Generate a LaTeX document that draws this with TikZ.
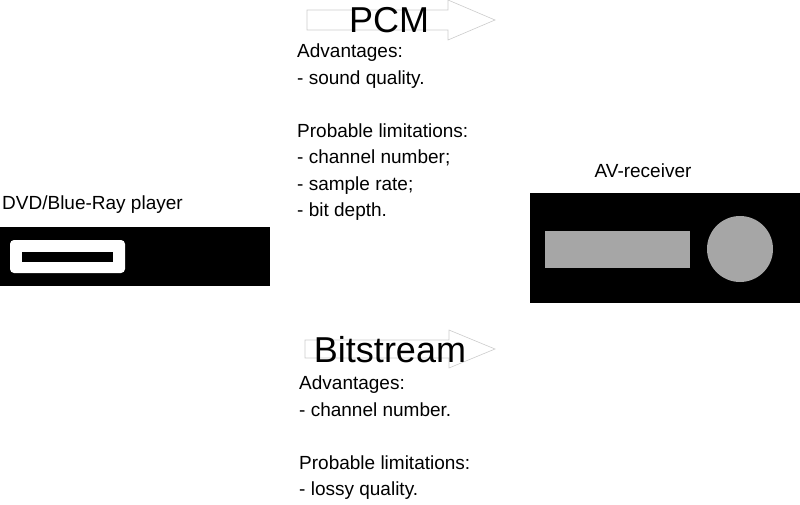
\documentclass[tikz,border=0pt]{standalone}
\usepackage{fontspec}
\setmainfont{Liberation Sans}
\begin{document}
\begin{tikzpicture}[x=1pt,y=-1pt,
  arr/.style={draw=black!20,fill=white,line width=0.6pt},
  body/.style={font=\fontsize{19}{26.5}\selectfont,align=left,anchor=north west,inner sep=0pt},
  big/.style={font=\fontsize{36}{40}\selectfont,inner sep=0pt},
  lbl/.style={font=\fontsize{19}{22}\selectfont,inner sep=0pt}]
\useasboundingbox (0,0) rectangle (800,505);
% PCM arrow
\draw[arr] (307,10) -- (448,10) -- (448,0) -- (495,20) -- (448,40) -- (448,30) -- (307,30) -- cycle;
\node[big] (pcm) at (389,20) {PCM};
\node[body] (pcmtxt) at (297,44) {Advantages:\\- sound quality.\\[26.5pt]Probable limitations:\\- channel number;\\- sample rate;\\- bit depth.};
% Bitstream arrow
\draw[arr] (305,340) -- (449,340) -- (449,330) -- (495,349) -- (449,368) -- (449,358) -- (305,358) -- cycle;
\node[big] (bs) at (390,350) {Bitstream};
\node[body] (bstxt) at (299,376) {Advantages:\\- channel number.\\[26.5pt]Probable limitations:\\- lossy quality.};
% player
\node[lbl,anchor=west] (plbl) at (2,205) {DVD/Blue-Ray player};
\fill (0,227) rectangle (270,286);
\fill[white,rounded corners=4pt] (10,240) rectangle (125,273);
\fill (22,252) rectangle (113,262);
% receiver
\node[lbl] (rlbl) at (643,171) {AV-receiver};
\fill (530,193) rectangle (800,303);
\fill[black!35] (545,231) rectangle (690,268);
\fill[black!35] (740,249) circle (33);
\end{tikzpicture}
\end{document}
